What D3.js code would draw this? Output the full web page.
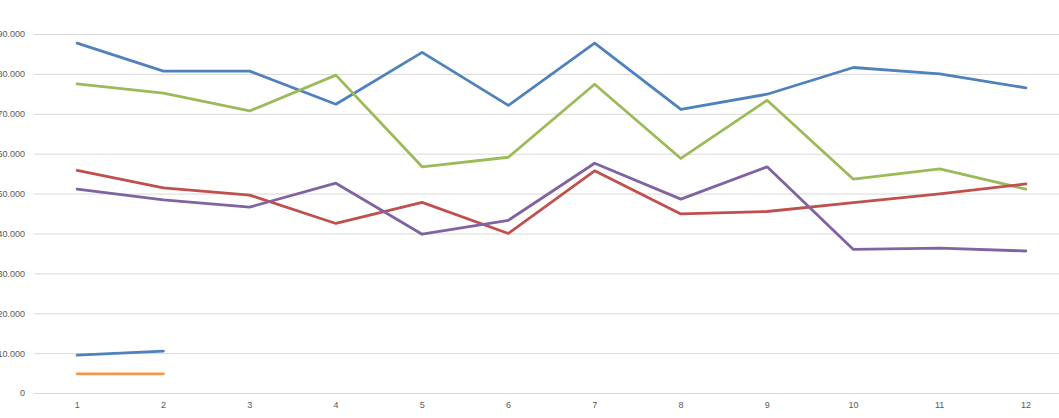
<!DOCTYPE html>
<html>
<head>
<meta charset="utf-8">
<script src="https://cdn.jsdelivr.net/npm/d3@7"></script>
<style>
  body { margin: 0; background: #fff; overflow: hidden; }
  svg { display: block; }
  .tick text { font-family: "Liberation Sans", Arial, sans-serif; font-size: 9px; fill: #595959; }
</style>
</head>
<body>
<div id="chart"></div>
<script>
const months = [1, 2, 3, 4, 5, 6, 7, 8, 9, 10, 11, 12];
const yTicks = [0, 10000, 20000, 30000, 40000, 50000, 60000, 70000, 80000, 90000];

const seriesBlue   = [87700, 80700, 80700, 72400, 85400, 72100, 87700, 71100, 74900, 81600, 80000, 76500];
const seriesGreen  = [77500, 75200, 70700, 79700, 56700, 59100, 77400, 58800, 73400, 53600, 56200, 51100];
const seriesRed    = [55800, 51400, 49600, 42500, 47800, 40000, 55700, 44900, 45500, 47700, 49900, 52400];
const seriesPurple = [51100, 48400, 46600, 52600, 39800, 43300, 57600, 48600, 56700, 36000, 36300, 35600];
const seriesBlue2  = [9500, 10500];
const seriesOrange = [4800, 4800];

const series = [
  { values: seriesBlue, color: '#4F81BD' },
  { values: seriesGreen, color: '#9BBB59' },
  { values: seriesRed, color: '#C0504D' },
  { values: seriesPurple, color: '#8064A2' },
  { values: seriesBlue2, color: '#4F81BD' },
  { values: seriesOrange, color: '#F79646' }
];

const w = 1059;
const h = 418;

const svg = d3.select('#chart')
              .append('svg')
              .attr('width', w)
              .attr('height', h);

const xScale = d3.scaleBand()
                 .domain(months)
                 .range([34, 1069]);
const yScale = d3.scaleLinear()
                 .domain([0, 90000])
                 .range([393, 34]);

const fmt = d3.formatLocale({ decimal: ',', thousands: '.', grouping: [3], currency: ['', ''] }).format(',');

// gridlines + y labels
const yAxis = d3.axisLeft(yScale)
                .tickValues(yTicks)
                .tickSize(-(w - 34))
                .tickPadding(9)
                .tickFormat(fmt);

svg.append('g')
   .attr('transform', 'translate(34, 0)')
   .call(yAxis)
   .call(g => g.select('.domain').remove())
   .call(g => g.selectAll('.tick line').attr('stroke', '#d9d9d9').attr('stroke-width', 1));

const xAxis = d3.axisBottom(xScale)
                .tickSize(0)
                .tickPadding(9);

svg.append('g')
   .attr('transform', 'translate(0, 393)')
   .call(xAxis)
   .call(g => g.select('.domain').remove());

const line = d3.line()
               .x((d, i) => xScale(months[i]) + xScale.bandwidth() / 2)
               .y(d => yScale(d));

svg.selectAll('path.series')
   .data(series)
   .enter()
   .append('path')
   .attr('class', 'series')
   .attr('d', d => line(d.values))
   .attr('fill', 'none')
   .attr('stroke', d => d.color)
   .attr('stroke-width', 2.8)
   .attr('stroke-linejoin', 'round')
   .attr('stroke-linecap', 'round');
</script>
</body>
</html>
